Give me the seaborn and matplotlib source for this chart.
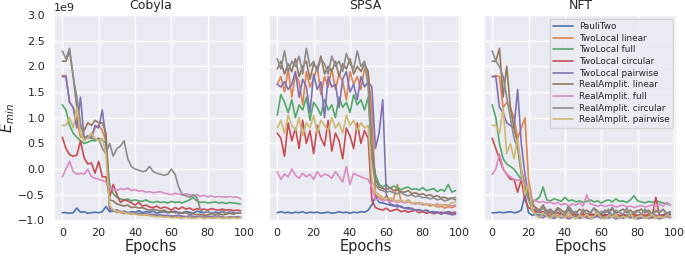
import numpy as np
import pandas as pd
import matplotlib
matplotlib.use("Agg")
import matplotlib.pyplot as plt
import seaborn as sns

# energies in units of 1e9, one value every 2 epochs
optimizers = ["Cobyla", "SPSA", "NFT"]
ansatzes = ["PauliTwo", "TwoLocal linear", "TwoLocal full", "TwoLocal circular",
            "TwoLocal pairwise", "RealAmplit. linear", "RealAmplit. full",
            "RealAmplit. circular", "RealAmplit. pairwise"]
epoch_step = 2

cobyla_pauli = [-0.85,-0.85,-0.86,-0.85,-0.76,-0.84,-0.83,-0.86,-0.85,-0.84,-0.85,-0.83,-0.73,-0.83,-0.82,-0.80,-0.84,-0.82,-0.85,-0.83,-0.84,-0.81,-0.85,-0.83,-0.84,-0.82,-0.86,-0.84,-0.83,-0.85,-0.84,-0.82,-0.86,-0.85,-0.83,-0.84,-0.86,-0.82,-0.84,-0.85,-0.83,-0.86,-0.84,-0.85,-0.83,-0.86,-0.84,-0.85,-0.86,-0.85]
cobyla_tl_linear = [1.82,1.82,1.30,1.20,0.95,0.62,0.64,0.60,0.62,0.80,0.85,0.75,0.55,-0.75,-0.80,-0.85,-0.82,-0.87,-0.85,-0.88,-0.86,-0.89,-0.87,-0.90,-0.88,-0.91,-0.90,-0.92,-0.90,-0.93,-0.91,-0.92,-0.94,-0.92,-0.93,-0.95,-0.93,-0.94,-0.92,-0.95,-0.94,-0.93,-0.95,-0.94,-0.96,-0.94,-0.95,-0.93,-0.95,-0.94]
cobyla_tl_full = [1.25,1.15,0.85,0.70,0.62,0.55,0.50,0.52,0.56,0.55,0.60,0.57,0.50,-0.30,-0.48,-0.55,-0.58,-0.60,-0.58,-0.62,-0.60,-0.62,-0.63,-0.60,-0.64,-0.65,-0.63,-0.65,-0.64,-0.66,-0.63,-0.65,-0.64,-0.66,-0.63,-0.60,-0.55,-0.62,-0.65,-0.64,-0.66,-0.65,-0.64,-0.66,-0.65,-0.67,-0.65,-0.66,-0.67,-0.68]
cobyla_tl_circular = [0.62,0.40,0.28,0.25,0.27,0.55,0.22,0.10,0.12,-0.08,0.15,-0.15,-0.15,-0.55,-0.30,-0.50,-0.65,-0.60,-0.62,-0.66,-0.70,-0.65,-0.72,-0.70,-0.74,-0.75,-0.72,-0.77,-0.74,-0.76,-0.80,-0.75,-0.78,-0.74,-0.78,-0.76,-0.80,-0.77,-0.79,-0.78,-0.80,-0.77,-0.79,-0.80,-0.78,-0.80,-0.79,-0.81,-0.80,-0.81]
cobyla_tl_pairwise = [1.80,1.80,1.30,1.20,0.80,1.40,0.60,0.65,0.60,0.85,0.80,1.15,0.60,-0.80,-0.82,-0.80,-0.85,-0.84,-0.86,-0.85,-0.87,-0.86,-0.88,-0.87,-0.89,-0.88,-0.90,-0.89,-0.91,-0.90,-0.92,-0.91,-0.90,-0.92,-0.93,-0.91,-0.92,-0.93,-0.92,-0.94,-0.92,-0.93,-0.94,-0.92,-0.93,-0.95,-0.93,-0.94,-0.93,-0.94]
cobyla_ra_linear = [2.10,2.10,2.30,1.80,1.20,0.80,0.75,0.90,0.85,0.95,0.90,0.90,0.70,-0.60,-0.62,-0.68,-0.70,-0.72,-0.70,-0.75,-0.74,-0.76,-0.75,-0.78,-0.80,-0.78,-0.80,-0.82,-0.80,-0.84,-0.83,-0.85,-0.84,-0.86,-0.85,-0.88,-0.87,-0.89,-0.88,-0.90,-0.89,-0.88,-0.90,-0.87,-0.89,-0.88,-0.86,-0.88,-0.85,-0.86]
cobyla_ra_full = [-0.15,0.00,0.15,-0.05,-0.10,-0.08,-0.10,0.00,-0.15,-0.18,-0.20,-0.22,-0.25,-0.35,-0.40,-0.42,-0.38,-0.40,-0.37,-0.42,-0.40,-0.43,-0.42,-0.45,-0.44,-0.46,-0.45,-0.44,-0.47,-0.48,-0.50,-0.47,-0.49,-0.50,-0.48,-0.50,-0.52,-0.50,-0.53,-0.51,-0.54,-0.52,-0.55,-0.53,-0.54,-0.55,-0.53,-0.55,-0.54,-0.58]
cobyla_ra_circular = [2.30,2.15,2.35,1.80,1.40,0.90,0.60,0.62,0.60,0.58,0.60,0.40,0.30,0.50,0.25,0.40,0.45,0.55,0.20,0.05,0.00,-0.02,-0.05,-0.03,0.05,-0.05,-0.08,-0.10,-0.12,-0.10,0.00,-0.10,-0.35,-0.50,-0.52,-0.55,-0.50,-0.55,-0.80,-0.85,-0.82,-0.88,-0.85,-0.90,-0.80,-0.86,-0.83,-0.88,-0.85,-0.85]
cobyla_ra_pairwise = [0.85,0.85,1.00,0.80,1.20,0.70,0.55,0.60,0.70,0.60,0.55,0.60,0.30,-0.70,-0.80,-0.82,-0.85,-0.84,-0.87,-0.86,-0.88,-0.89,-0.90,-0.88,-0.91,-0.92,-0.93,-0.92,-0.94,-0.93,-0.95,-0.94,-0.95,-0.96,-0.94,-0.95,-0.96,-0.95,-0.94,-0.96,-0.95,-0.96,-0.95,-0.94,-0.96,-0.95,-0.96,-0.95,-0.96,-0.95]

spsa_pauli = [-0.85,-0.83,-0.85,-0.84,-0.86,-0.84,-0.85,-0.83,-0.86,-0.84,-0.85,-0.84,-0.86,-0.85,-0.84,-0.86,-0.85,-0.83,-0.85,-0.84,-0.86,-0.84,-0.85,-0.83,-0.84,-0.80,-0.70,-0.52,-0.65,-0.66,-0.68,-0.70,-0.72,-0.70,-0.74,-0.76,-0.75,-0.78,-0.80,-0.79,-0.82,-0.80,-0.84,-0.83,-0.85,-0.84,-0.86,-0.83,-0.85,-0.84]
spsa_tl_linear = [1.65,1.80,1.50,1.95,1.40,1.85,1.70,1.25,1.90,1.60,1.75,2.00,1.45,1.80,1.60,1.95,1.55,1.85,1.70,1.35,1.90,1.65,1.80,1.55,1.95,1.85,1.20,-0.50,-0.55,-0.60,-0.52,-0.62,-0.58,-0.30,-0.62,-0.65,-0.60,-0.66,-0.68,-0.65,-0.70,-0.68,-0.72,-0.70,-0.74,-0.72,-0.76,-0.73,-0.75,-0.72]
spsa_tl_full = [1.05,1.45,1.30,1.10,1.35,1.00,1.25,1.15,1.40,0.95,1.30,1.20,1.05,1.35,1.15,1.25,1.00,1.40,1.20,1.30,1.10,1.45,1.25,1.35,1.15,1.40,0.30,-0.10,-0.30,-0.35,-0.30,-0.38,-0.33,-0.36,-0.40,-0.37,-0.35,-0.40,-0.38,-0.41,-0.36,-0.42,-0.40,-0.38,-0.44,-0.40,-0.43,-0.30,-0.45,-0.42]
spsa_tl_circular = [0.70,0.60,0.25,0.90,0.55,0.80,0.40,0.95,0.50,0.75,0.30,0.85,0.60,0.45,0.95,0.35,0.70,0.55,0.20,0.80,0.65,0.40,0.90,0.50,0.75,0.60,-0.60,-0.75,-0.78,-0.80,-0.76,-0.82,-0.80,-0.78,-0.83,-0.81,-0.84,-0.82,-0.80,-0.85,-0.83,-0.86,-0.84,-0.87,-0.85,-0.86,-0.84,-0.87,-0.85,-0.86]
spsa_tl_pairwise = [1.65,1.60,1.70,1.55,1.65,1.90,1.40,1.75,1.60,1.10,1.85,1.55,1.70,1.00,1.80,1.60,1.65,1.20,1.75,1.90,1.50,1.65,1.35,1.80,1.60,1.70,1.60,0.40,0.70,1.35,-0.50,-0.68,-0.70,-0.74,-0.72,-0.76,-0.78,-0.76,-0.80,-0.79,-0.82,-0.80,-0.84,-0.86,-0.83,-0.88,-0.85,-0.87,-0.89,-0.88]
spsa_ra_linear = [1.95,2.10,1.85,2.05,1.90,2.15,1.80,2.00,2.10,1.75,2.05,1.95,2.20,1.85,2.00,1.90,2.10,1.80,2.05,1.95,2.15,1.85,2.00,1.90,2.05,1.90,0.50,-0.20,-0.35,-0.38,-0.40,-0.36,-0.42,-0.40,-0.44,-0.45,-0.42,-0.48,-0.46,-0.50,-0.48,-0.52,-0.50,-0.54,-0.52,-0.56,-0.55,-0.58,-0.56,-0.60]
spsa_ra_full = [-0.05,-0.20,-0.10,-0.15,0.00,-0.12,-0.18,-0.08,-0.15,-0.10,-0.20,-0.05,-0.15,-0.10,-0.12,-0.18,-0.05,-0.15,-0.25,0.05,-0.30,-0.08,-0.12,-0.15,-0.18,-0.20,-0.35,-0.60,-0.58,-0.62,-0.60,-0.64,-0.62,-0.65,-0.63,-0.66,-0.64,-0.67,-0.68,-0.66,-0.70,-0.68,-0.69,-0.70,-0.68,-0.71,-0.69,-0.70,-0.72,-0.70]
spsa_ra_circular = [2.15,1.95,2.30,1.90,2.10,2.00,2.20,1.85,2.35,2.00,2.10,1.90,2.15,2.05,1.85,2.20,2.00,2.10,1.90,2.25,2.05,1.95,2.30,2.00,2.10,1.60,0.20,-0.30,-0.40,-0.42,-0.45,-0.43,-0.46,-0.48,-0.45,-0.50,-0.52,-0.50,-0.54,-0.52,-0.56,-0.55,-0.58,-0.56,-0.60,-0.58,-0.62,-0.60,-0.57,-0.55]
spsa_ra_pairwise = [0.80,0.95,0.70,1.05,0.85,0.75,1.00,0.65,0.90,0.80,1.05,0.70,0.95,0.85,0.75,1.00,0.80,0.90,0.70,1.05,0.85,0.95,0.75,0.90,0.80,0.85,-0.20,-0.45,-0.50,-0.55,-0.58,-0.56,-0.60,-0.62,-0.60,-0.64,-0.62,-0.66,-0.65,-0.68,-0.66,-0.70,-0.68,-0.70,-0.72,-0.69,-0.71,-0.70,-0.66,-0.64]

nft_pauli = [-0.85,-0.85,-0.84,-0.85,-0.84,-0.83,-0.85,-0.84,-0.80,-0.50,-0.85,-0.90,-0.88,-0.90,-0.89,-0.91,-0.88,-0.90,-0.91,-0.89,-0.90,-0.78,-0.90,-0.91,-0.89,-0.90,-0.92,-0.88,-0.90,-0.91,-0.89,-0.90,-0.88,-0.75,-0.90,-0.91,-0.89,-0.90,-0.88,-0.91,-0.90,-0.89,-0.91,-0.90,-0.88,-0.90,-0.91,-0.89,-0.86,-0.88]
nft_tl_linear = [1.80,1.82,1.80,1.20,1.30,1.20,1.00,0.60,0.80,1.00,-0.20,-0.60,-0.85,-0.80,-0.88,-0.85,-0.90,-0.87,-0.92,-0.85,-0.90,-0.93,-0.88,-0.91,-0.95,-0.89,-0.92,-0.90,-0.94,-0.88,-0.92,-0.95,-0.90,-0.93,-0.91,-0.96,-0.90,-0.92,-0.94,-0.89,-0.93,-0.95,-0.90,-0.92,-0.96,-0.91,-0.93,-0.95,-0.92,-0.94]
nft_tl_full = [1.25,1.00,0.50,0.20,0.10,0.05,0.00,-0.10,-0.20,-0.30,-0.55,-0.65,-0.60,-0.55,-0.35,-0.60,-0.62,-0.58,-0.60,-0.63,-0.55,-0.62,-0.60,-0.64,-0.62,-0.65,-0.63,-0.60,-0.64,-0.62,-0.66,-0.62,-0.60,-0.64,-0.58,-0.63,-0.62,-0.65,-0.60,-0.52,-0.62,-0.64,-0.66,-0.63,-0.65,-0.62,-0.64,-0.66,-0.68,-0.70]
nft_tl_circular = [0.60,0.40,0.20,0.00,-0.10,-0.20,-0.20,-0.45,-0.20,-0.60,-0.75,-0.80,-0.82,-0.85,-0.83,-0.86,-0.84,-0.88,-0.85,-0.87,-0.90,-0.86,-0.89,-0.88,-0.90,-0.87,-0.91,-0.89,-0.88,-0.90,-0.92,-0.89,-0.91,-0.90,-0.88,-0.91,-0.89,-0.92,-0.90,-0.88,-0.91,-0.89,-0.90,-0.88,-0.92,-0.55,-0.90,-0.91,-0.89,-0.92]
nft_tl_pairwise = [1.80,1.80,1.20,1.10,0.90,0.85,0.80,1.55,0.50,-0.10,-0.50,-0.80,-0.90,-0.92,-0.95,-0.90,-0.93,-0.96,-0.92,-0.95,-0.93,-0.97,-0.94,-0.92,-0.96,-0.93,-0.95,-0.97,-0.94,-0.92,-0.96,-0.94,-0.95,-0.93,-0.97,-0.94,-0.96,-0.92,-0.95,-0.93,-0.97,-0.95,-0.94,-0.96,-0.93,-0.95,-0.97,-0.94,-0.92,-0.95]
nft_ra_linear = [2.10,2.10,2.35,1.40,2.00,1.20,0.80,0.50,0.00,-0.30,-0.55,-0.70,-0.75,-0.80,-0.70,-0.82,-0.78,-0.85,-0.75,-0.80,-0.85,-0.72,-0.82,-0.88,-0.78,-0.84,-0.80,-0.86,-0.76,-0.82,-0.88,-0.80,-0.84,-0.76,-0.86,-0.82,-0.78,-0.85,-0.80,-0.87,-0.82,-0.78,-0.85,-0.80,-0.88,-0.82,-0.84,-0.79,-0.86,-0.83]
nft_ra_full = [-0.10,0.00,0.30,0.00,-0.10,-0.15,-0.20,-0.22,-0.20,-0.30,-0.40,-0.60,-0.62,-0.65,-0.63,-0.66,-0.64,-0.68,-0.65,-0.70,-0.67,-0.72,-0.68,-0.70,-0.66,-0.72,-0.50,-0.68,-0.70,-0.72,-0.70,-0.73,-0.71,-0.70,-0.74,-0.72,-0.70,-0.74,-0.72,-0.75,-0.73,-0.71,-0.74,-0.72,-0.70,-0.73,-0.68,-0.72,-0.65,-0.70]
nft_ra_circular = [2.30,2.10,2.00,1.80,1.40,1.00,0.60,0.40,-0.10,-0.40,-0.60,-0.80,-0.78,-0.85,-0.75,-0.88,-0.80,-0.92,-0.78,-0.85,-0.90,-0.75,-0.86,-0.82,-0.92,-0.78,-0.88,-0.84,-0.76,-0.90,-0.82,-0.86,-0.78,-0.92,-0.80,-0.85,-0.88,-0.76,-0.90,-0.83,-0.80,-0.88,-0.78,-0.86,-0.92,-0.80,-0.85,-0.78,-0.88,-0.84]
nft_ra_pairwise = [0.85,0.85,0.70,1.20,0.30,0.50,0.20,0.60,0.00,-0.50,-0.30,-0.80,-0.90,-0.95,-0.85,-0.92,-0.96,-0.88,-0.94,-0.90,-0.96,-0.84,-0.93,-0.97,-0.90,-0.95,-0.88,-0.96,-0.92,-0.85,-0.95,-0.97,-0.90,-0.94,-0.88,-0.96,-0.92,-0.95,-0.86,-0.97,-0.93,-0.90,-0.96,-0.94,-0.88,-0.96,-0.92,-0.95,-0.90,-0.93]

series = {
    "Cobyla": [cobyla_pauli, cobyla_tl_linear, cobyla_tl_full, cobyla_tl_circular, cobyla_tl_pairwise,
               cobyla_ra_linear, cobyla_ra_full, cobyla_ra_circular, cobyla_ra_pairwise],
    "SPSA": [spsa_pauli, spsa_tl_linear, spsa_tl_full, spsa_tl_circular, spsa_tl_pairwise,
             spsa_ra_linear, spsa_ra_full, spsa_ra_circular, spsa_ra_pairwise],
    "NFT": [nft_pauli, nft_tl_linear, nft_tl_full, nft_tl_circular, nft_tl_pairwise,
            nft_ra_linear, nft_ra_full, nft_ra_circular, nft_ra_pairwise],
}

rows = []
for opt in optimizers:
    for name, vals in zip(ansatzes, series[opt]):
        for i, v in enumerate(vals):
            rows.append((opt, name, i * epoch_step, v * 1e9))
df = pd.DataFrame(rows, columns=["optimizer", "ansatz", "epoch", "energy"])

sns.set_theme(style="darkgrid")
fig, axes = plt.subplots(1, 3, figsize=(6.85, 2.59), dpi=100, sharey=True)
fig.subplots_adjust(left=0.079, right=0.988, top=0.942, bottom=0.143, wspace=0.115)

for ax, opt in zip(axes, optimizers):
    sns.lineplot(data=df[df.optimizer == opt], x="epoch", y="energy", hue="ansatz",
                 hue_order=ansatzes, palette="deep", lw=1.2, ax=ax, legend=(opt == "NFT"))
    ax.set_title(opt, fontsize=9, pad=4)
    ax.set_xlabel("Epochs", fontsize=10.5, labelpad=1)
    ax.set_ylabel("")
    ax.set_xlim(-4.5, 101.5)
    ax.set_xticks([0, 20, 40, 60, 80, 100])
    ax.tick_params(axis="x", labelsize=8, length=0, pad=4)
    ax.tick_params(axis="y", labelsize=8, length=0, pad=6.5)

axes[0].set_ylim(-1.03e9, 3.0e9)
axes[0].set_yticks(np.arange(-1.0, 3.01, 0.5) * 1e9)
axes[0].set_ylabel("$E_{min}$", fontsize=10.5, labelpad=0.5)
axes[0].yaxis.get_offset_text().set_fontsize(8)

leg = axes[2].legend(loc="upper right", fontsize=6.4, handlelength=2.2, labelspacing=0.3,
                     borderpad=0.4, borderaxespad=0.4, handletextpad=0.7, frameon=True)
leg.set_title(None)

fig.savefig("out.png", dpi=100)
